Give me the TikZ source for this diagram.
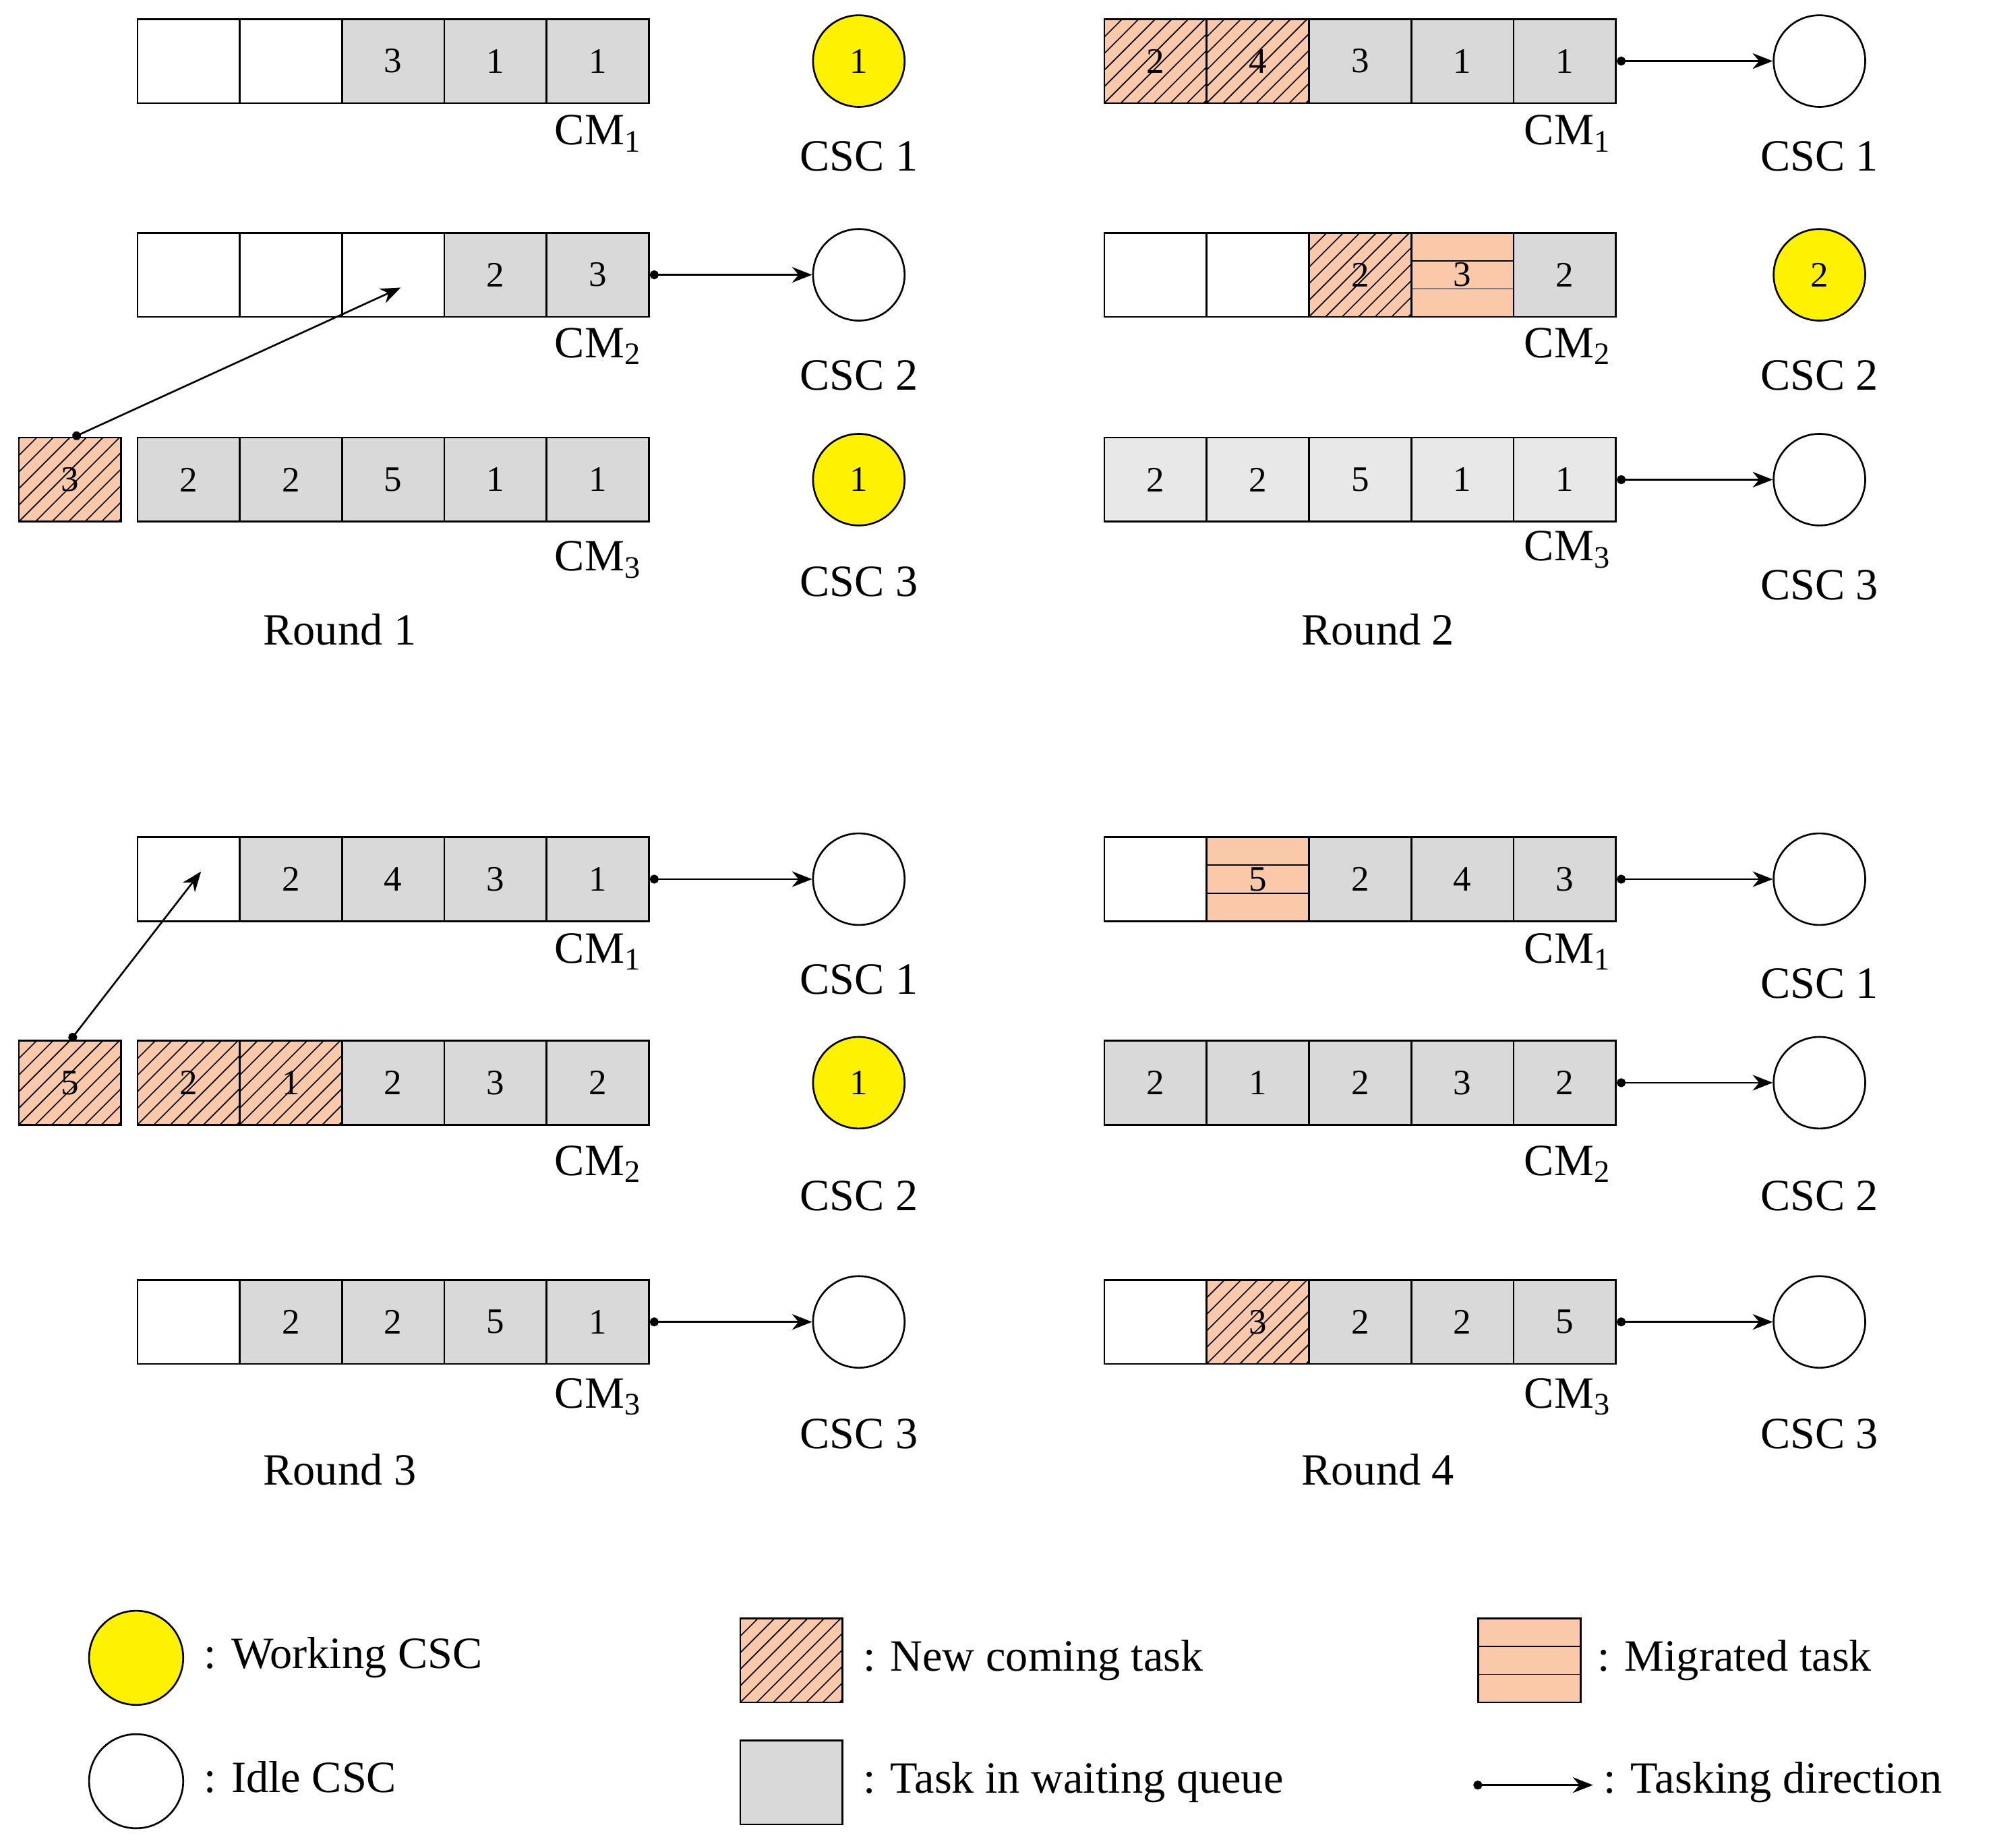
\documentclass[tikz,border=0pt]{standalone}
\usepackage{fontspec}
\setmainfont{Liberation Serif}
\usetikzlibrary{arrows.meta}
\definecolor{og}{HTML}{F9C9AA}
\definecolor{gr}{HTML}{D9D9D9}
\definecolor{lg}{HTML}{E8E8E8}
\tikzset{
 x=0.02cm,y=-0.02cm,
 cell/.style={draw,line width=0.8pt,minimum width=1.608cm,minimum height=1.32cm,inner sep=0,font=\fontsize{16}{16}\selectfont},
 qe/.style={cell},
 qw/.style={cell,fill=gr},
 ql/.style={cell,fill=lg},
 qn/.style={cell,fill=og,path picture={\foreach \i in {-8,...,8}{\draw[line width=0.5pt]([xshift=\i*0.26cm]path picture bounding box.south west)--++(1.6cm,1.6cm);}}},
 qm/.style={cell,fill=og,path picture={\draw[line width=0.5pt]([yshift=0.44cm]path picture bounding box.south west)--++(2cm,0) ([yshift=0.88cm]path picture bounding box.south west)--++(2cm,0);}},
 csc/.style={draw,circle,line width=0.8pt,minimum size=1.44cm,inner sep=0,font=\fontsize{16}{16}\selectfont},
 work/.style={csc,fill=yellow},
 lab/.style={font=\fontsize{20}{20}\selectfont,inner sep=0},
 dir/.style={line width=0.8pt,{Circle[length=4pt]}-{Stealth[length=9pt,width=7pt]}},
}
\newcommand\queue[4]{\foreach \t/\l [count=\k] in {#4}{\node[\t] (#1-\k) at ({#2+(\k-0.5)*80.4},#3) {\l};}}
\begin{document}
\begin{tikzpicture}
\useasboundingbox (0,0) rectangle (1568,1452);
% Round 1
\queue{a1}{108}{48}{qe/,qe/,qw/3,qw/1,qw/1}
\queue{a2}{108}{216}{qe/,qe/,qe/,qw/2,qw/3}
\queue{a3}{108}{377}{qw/2,qw/2,qw/5,qw/1,qw/1}
\node[qn] (ax) at (55,377) {3};
\node[work] (ac1) at (675,48) {1};
\node[csc] (ac2) at (675,216) {};
\node[work] (ac3) at (675,377) {1};
\draw[dir] (a2-5.east) -- (ac2.west);
\coordinate (am) at (57,344); \coordinate (at) at (315,226);
\draw[dir] (am) -- (at);
\node[lab] at (470,105) {CM\textsubscript{1}};
\node[lab] at (470,272) {CM\textsubscript{2}};
\node[lab] at (470,440) {CM\textsubscript{3}};
\node[lab] at (675,123) {CSC 1};
\node[lab] at (675,295) {CSC 2};
\node[lab] at (675,457) {CSC 3};
\node[lab] at (267,495) {Round 1};
% Round 2
\queue{b1}{868}{48}{qn/2,qn/4,qw/3,qw/1,qw/1}
\queue{b2}{868}{216}{qe/,qe/,qn/2,qm/3,qw/2}
\queue{b3}{868}{377}{ql/2,ql/2,ql/5,ql/1,ql/1}
\node[csc] (bc1) at (1430,48) {};
\node[work] (bc2) at (1430,216) {2};
\node[csc] (bc3) at (1430,377) {};
\draw[dir] (b1-5.east) -- (bc1.west);
\draw[dir] (b3-5.east) -- (bc3.west);
\node[lab] at (1232,105) {CM\textsubscript{1}};
\node[lab] at (1232,272) {CM\textsubscript{2}};
\node[lab] at (1232,432) {CM\textsubscript{3}};
\node[lab] at (1430,123) {CSC 1};
\node[lab] at (1430,295) {CSC 2};
\node[lab] at (1430,460) {CSC 3};
\node[lab] at (1083,495) {Round 2};
% Round 3
\queue{c1}{108}{691}{qe/,qw/2,qw/4,qw/3,qw/1}
\queue{c2}{108}{851}{qn/2,qn/1,qw/2,qw/3,qw/2}
\queue{c3}{108}{1039}{qe/,qw/2,qw/2,qw/5,qw/1}
\node[qn] (cx) at (55,851) {5};
\node[csc] (cc1) at (675,691) {};
\node[work] (cc2) at (675,851) {1};
\node[csc] (cc3) at (675,1039) {};
\draw[dir] (c1-5.east) -- (cc1.west);
\draw[dir] (c3-5.east) -- (cc3.west);
\coordinate (cm) at (55,818); \coordinate (ct) at (158,685);
\draw[dir] (cm) -- (ct);
\node[lab] at (470,748) {CM\textsubscript{1}};
\node[lab] at (470,915) {CM\textsubscript{2}};
\node[lab] at (470,1098) {CM\textsubscript{3}};
\node[lab] at (675,770) {CSC 1};
\node[lab] at (675,940) {CSC 2};
\node[lab] at (675,1127) {CSC 3};
\node[lab] at (267,1155) {Round 3};
% Round 4
\queue{d1}{868}{691}{qe/,qm/5,qw/2,qw/4,qw/3}
\queue{d2}{868}{851}{qw/2,qw/1,qw/2,qw/3,qw/2}
\queue{d3}{868}{1039}{qe/,qn/3,qw/2,qw/2,qw/5}
\node[csc] (dc1) at (1430,691) {};
\node[csc] (dc2) at (1430,851) {};
\node[csc] (dc3) at (1430,1039) {};
\draw[dir] (d1-5.east) -- (dc1.west);
\draw[dir] (d2-5.east) -- (dc2.west);
\draw[dir] (d3-5.east) -- (dc3.west);
\node[lab] at (1232,748) {CM\textsubscript{1}};
\node[lab] at (1232,915) {CM\textsubscript{2}};
\node[lab] at (1232,1098) {CM\textsubscript{3}};
\node[lab] at (1430,773) {CSC 1};
\node[lab] at (1430,940) {CSC 2};
\node[lab] at (1430,1127) {CSC 3};
\node[lab] at (1083,1155) {Round 4};
% Legend
\node[work,minimum size=1.48cm] (lw) at (107,1303) {};
\node[csc,minimum size=1.48cm] (li) at (107,1400) {};
\node[lab,anchor=west] at (160,1303) {: Working CSC};
\node[lab,anchor=west] at (160,1397) {: Idle CSC};
\node[qn] (ln) at (622,1305) {};
\node[qw] (lq) at (622,1401) {};
\node[lab,anchor=west] at (678,1305) {: New coming task};
\node[lab,anchor=west] at (678,1401) {: Task in waiting queue};
\node[qm] (lm) at (1202,1305) {};
\node[lab,anchor=west] at (1255,1305) {: Migrated task};
\coordinate (la) at (1158,1403); \coordinate (lb) at (1252,1403);
\draw[dir] (la) -- (lb);
\node[lab,anchor=west] at (1260,1401) {: Tasking direction};
\end{tikzpicture}
\end{document}
